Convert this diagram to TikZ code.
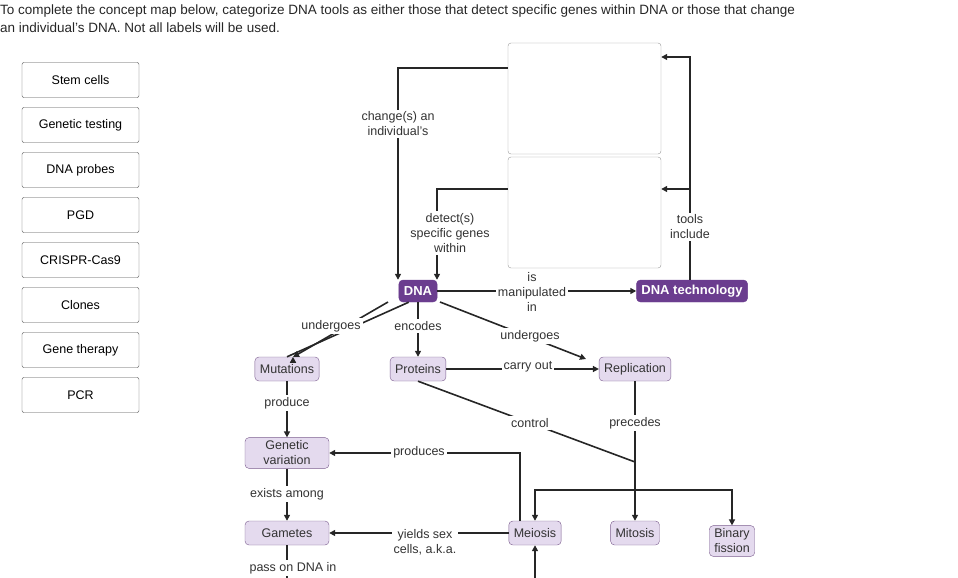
\documentclass[tikz,border=0pt]{standalone}
\usepackage{fontspec}
\setmainfont{Liberation Sans}
\usetikzlibrary{arrows.meta}
\definecolor{dk}{HTML}{6B3D8F}
\definecolor{lt}{HTML}{E4DAEE}
\definecolor{ltb}{HTML}{7A5C8E}
\begin{document}
\begin{tikzpicture}[x=1pt,y=-1pt,
  every node/.style={font=\fontsize{12}{14}\selectfont, text=black!80},
  lbl/.style={fill=white, inner sep=2pt, align=center, font=\fontsize{12.5}{15}\selectfont, text=black!80},
  opt/.style={draw=black!70, rounded corners=2pt, minimum width=117pt, minimum height=35pt, font=\fontsize{12.5}{15}\selectfont, text=black},
  blank/.style={draw=black!40, rounded corners=3pt, minimum width=153pt, minimum height=111pt},
  big/.style={fill=dk, draw=dk, rounded corners=4pt, text=white, font=\bfseries\fontsize{13}{15}\selectfont, minimum height=22pt, inner xsep=5pt},
  sm/.style={fill=lt, draw=ltb, rounded corners=4pt, align=center, font=\fontsize{12.5}{15}\selectfont, text=black!80, minimum height=24pt, inner xsep=5pt},
  ln/.style={line width=1.6pt, black!85},
  ar/.style={ln, -{Triangle[length=6pt,width=6pt]}}]
\useasboundingbox (0,0) rectangle (958,578);
\node[anchor=north west, align=left, inner sep=0pt, font=\fontsize{13.5}{18}\selectfont, text=black!85] (intro) at (0,5)
 {To complete the concept map below, categorize DNA tools as either those that detect specific genes within DNA or those that change\\an individual's DNA. Not all labels will be used.};
\foreach \n/\t/\y in {o1/Stem cells/80, o2/Genetic testing/125, o3/DNA probes/170, o4/PGD/215, o5/CRISPR-Cas9/260, o6/Clones/305, o7/Gene therapy/350, o8/PCR/395}
  \node[opt] (\n) at (80.5,\y) {\t};
\node[blank] (b1) at (584.5,98.5) {};
\node[blank] (b2) at (584.5,212.5) {};
\node[big] (dna) at (418,291) {DNA};
\node[big] (tech) at (692,291) {DNA technology};
\node[sm] (mut) at (287,369) {Mutations};
\node[sm] (prot) at (418,369) {Proteins};
\node[sm] (rep) at (635,369) {Replication};
\node[sm, minimum width=84pt] (gv) at (287,453) {Genetic\\variation};
\node[sm, minimum width=84pt] (gam) at (287,533) {Gametes};
\node[sm] (mei) at (535,533) {Meiosis};
\node[sm] (mit) at (635,533) {Mitosis};
\node[sm] (bf) at (732,541) {Binary\\fission};
\coordinate (bot) at (535,578);
% top connectors
\draw[ar] (b1.west |- 0,68) -| (dna.north -| 398,0);
\node[lbl] (l1) at (398,124) {change(s) an\\individual's};
\draw[ar] (b2.west |- 0,189) -| (dna.north -| 437,0);
\node[lbl] (l2) at (450,233) {detect(s)\\specific genes\\within};
\draw[ar] (tech.north -| 690,0) |- (b1.east |- 0,57);
\draw[ar] (690,189) -- (b2.east |- 0,189);
\node[lbl] (l3) at (690,227) {tools\\include};
\draw[ar] (dna) -- (tech);
\node[lbl] (l4) at (532,292) {is\\manipulated\\in};
% lower
\draw[ar] (dna.south west) ++(10,0) -- (mut.north) ++(6,0);
\draw[ar] (388,302) -- (293,357);
\node[lbl] (l5) at (331,326) {undergoes};
\draw[ar] (dna) -- (prot);
\node[lbl] (l6) at (418,326) {encodes};
\draw[ar] (440,302) -- (586,359);
\node[lbl] (l7) at (530,336) {undergoes};
\draw[ar] (prot) -- (rep);
\node[lbl] (l8) at (528,367) {carry out};
\draw[ln] (prot.south) -- (635,462);
\node[lbl] (l9) at (530,423) {control};
\draw[ln] (rep) -- (635,490);
\node[lbl] (l10) at (635,423) {precedes};
\draw[ar] (635,490) -- (mit);
\draw[ar] (635,490) -| (mei.north);
\draw[ar] (635,490) -| (bf.north);
\draw[ar] (mut) -- (gv);
\node[lbl] (l11) at (287,403) {produce};
\draw[ar] (mei.north -| 520,0) |- (gv.east);
\node[lbl] (l12) at (419,452) {produces};
\draw[ar] (gv) -- (gam);
\node[lbl] (l13) at (287,494) {exists among};
\draw[ar] (mei) -- (gam);
\node[lbl] (l14) at (425,542) {yields sex\\cells, a.k.a.};
\draw[ln] (gam.south) -- (287,578);
\node[lbl] (l15) at (293,568) {pass on DNA in};
\draw[ar] (bot) -- (mei.south);
\end{tikzpicture}
\end{document}
